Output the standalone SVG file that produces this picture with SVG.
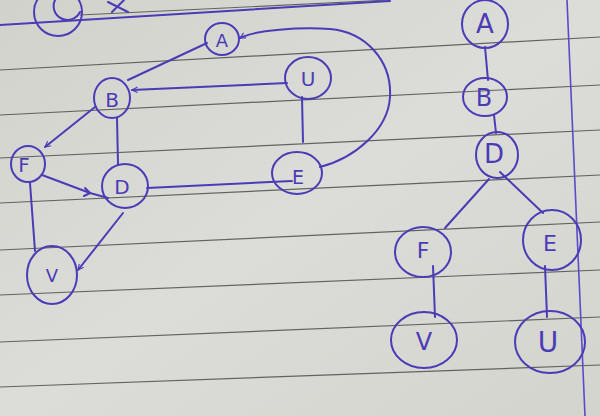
<svg xmlns="http://www.w3.org/2000/svg" width="600" height="416" viewBox="0 0 600 416">
<defs>
<linearGradient id="paper" x1="0" y1="0" x2="1" y2="1">
<stop offset="0" stop-color="#d2d2cd"/>
<stop offset="0.5" stop-color="#dcdcd8"/>
<stop offset="1" stop-color="#d4d4cf"/>
</linearGradient>
<marker id="hook" viewBox="0 0 10 10" refX="9" refY="5" markerWidth="7" markerHeight="7" orient="auto-start-reverse" markerUnits="userSpaceOnUse">
<path d="M1,1 L9,5 L1,9" fill="none" stroke="#4a3cb6" stroke-width="1.6"/>
</marker>
<style>
.ink{fill:none;stroke:#4a3cb6;stroke-width:2;stroke-linecap:round;stroke-linejoin:round}
.rule{stroke:#3c3c3a;stroke-width:1.2;opacity:0.75}
.lbl{font-family:"DejaVu Sans","Liberation Sans",sans-serif;fill:#4a3cb6;text-anchor:middle;dominant-baseline:central}
</style>
</defs>
<rect width="600" height="416" fill="url(#paper)"/>
<g id="rules">
<line class="rule" x1="80" y1="15" x2="390" y2="0"/>
<line class="rule" x1="0" y1="70" x2="600" y2="37"/>
<line class="rule" x1="0" y1="115" x2="600" y2="85"/>
<line class="rule" x1="0" y1="158" x2="600" y2="130"/>
<line class="rule" x1="0" y1="203" x2="600" y2="175"/>
<line class="rule" x1="0" y1="250" x2="600" y2="222"/>
<line class="rule" x1="0" y1="295" x2="600" y2="270"/>
<line class="rule" x1="0" y1="342" x2="600" y2="317"/>
<line class="rule" x1="0" y1="387" x2="600" y2="365"/>
</g>
<g id="margin">
<line x1="567" y1="0" x2="585" y2="416" stroke="#5a4cc8" stroke-width="1.6"/>
<path class="ink" d="M0,25 L390,1"/>
<circle class="ink" cx="58" cy="12" r="24"/>
<path class="ink" d="M55,0 A12,12 0 0 0 80,12"/>
<path class="ink" d="M108,2 L128,12 M112,12 L124,0" stroke-width="1.6"/>
</g>
<g id="connectors">
<line class="ink" x1="207" y1="43" x2="128" y2="80"/>
<line class="ink" x1="287" y1="83" x2="132" y2="90" marker-end="url(#hook)"/>
<path class="ink" d="M240,38 C255,30 300,27 330,29 C365,32 392,60 390,97 C388,130 355,158 320,167" marker-start="url(#hook)"/>
<line class="ink" x1="302" y1="97" x2="303" y2="142"/>
<line class="ink" x1="95" y1="107" x2="45" y2="147" marker-end="url(#hook)"/>
<line class="ink" x1="117" y1="118" x2="118" y2="164"/>
<path class="ink" d="M42,175 L90,193 L108,198"/>
<path class="ink" d="M85,188 L90,193 L84,196" stroke-width="1.6"/>
<line class="ink" x1="147" y1="188" x2="292" y2="181"/>
<line class="ink" x1="30" y1="183" x2="35" y2="251"/>
<line class="ink" x1="123" y1="213" x2="78" y2="270" marker-end="url(#hook)"/>
<line class="ink" x1="485" y1="47" x2="488" y2="80"/>
<line class="ink" x1="494" y1="115" x2="496" y2="133"/>
<line class="ink" x1="489" y1="179" x2="445" y2="228"/>
<line class="ink" x1="500" y1="172" x2="543" y2="213"/>
<line class="ink" x1="433" y1="266" x2="435" y2="317"/>
<line class="ink" x1="545" y1="266" x2="547" y2="317"/>
</g>
<g id="L-A"><ellipse class="ink" cx="222" cy="39" rx="17" ry="16"/><text class="lbl" x="222" y="40" font-size="18">A</text></g>
<g id="L-B"><ellipse class="ink" cx="112" cy="98" rx="18" ry="20"/><text class="lbl" x="112" y="100" font-size="20">B</text></g>
<g id="L-U"><ellipse class="ink" cx="308" cy="78" rx="23" ry="21"/><text class="lbl" x="308" y="79" font-size="20">U</text></g>
<g id="L-F"><ellipse class="ink" cx="28" cy="164" rx="17" ry="18"/><text class="lbl" x="24" y="165" font-size="20">F</text></g>
<g id="L-D"><ellipse class="ink" cx="125" cy="186" rx="23" ry="22"/><text class="lbl" x="122" y="187" font-size="20">D</text></g>
<g id="L-E"><ellipse class="ink" cx="297" cy="173" rx="25" ry="21"/><text class="lbl" x="298" y="177" font-size="19">E</text></g>
<g id="L-V"><ellipse class="ink" cx="52" cy="275" rx="25" ry="29"/><text class="lbl" x="52" y="275" font-size="18">V</text></g>
<g id="R-A"><ellipse class="ink" cx="485" cy="24" rx="23" ry="24"/><text class="lbl" x="485" y="24" font-size="26">A</text></g>
<g id="R-B"><ellipse class="ink" cx="485" cy="97" rx="22" ry="19"/><text class="lbl" x="484" y="98" font-size="24">B</text></g>
<g id="R-D"><ellipse class="ink" cx="497" cy="155" rx="21" ry="23"/><text class="lbl" x="494" y="154" font-size="26">D</text></g>
<g id="R-F"><ellipse class="ink" cx="423" cy="252" rx="28" ry="25"/><text class="lbl" x="423" y="250" font-size="22">F</text></g>
<g id="R-E"><ellipse class="ink" cx="552" cy="240" rx="29" ry="30"/><text class="lbl" x="550" y="243" font-size="22">E</text></g>
<g id="R-V"><ellipse class="ink" cx="424" cy="340" rx="33" ry="28"/><text class="lbl" x="424" y="342" font-size="24">V</text></g>
<g id="R-U"><ellipse class="ink" cx="550" cy="342" rx="35" ry="31"/><text class="lbl" x="548" y="342" font-size="28">U</text></g>
</svg>
